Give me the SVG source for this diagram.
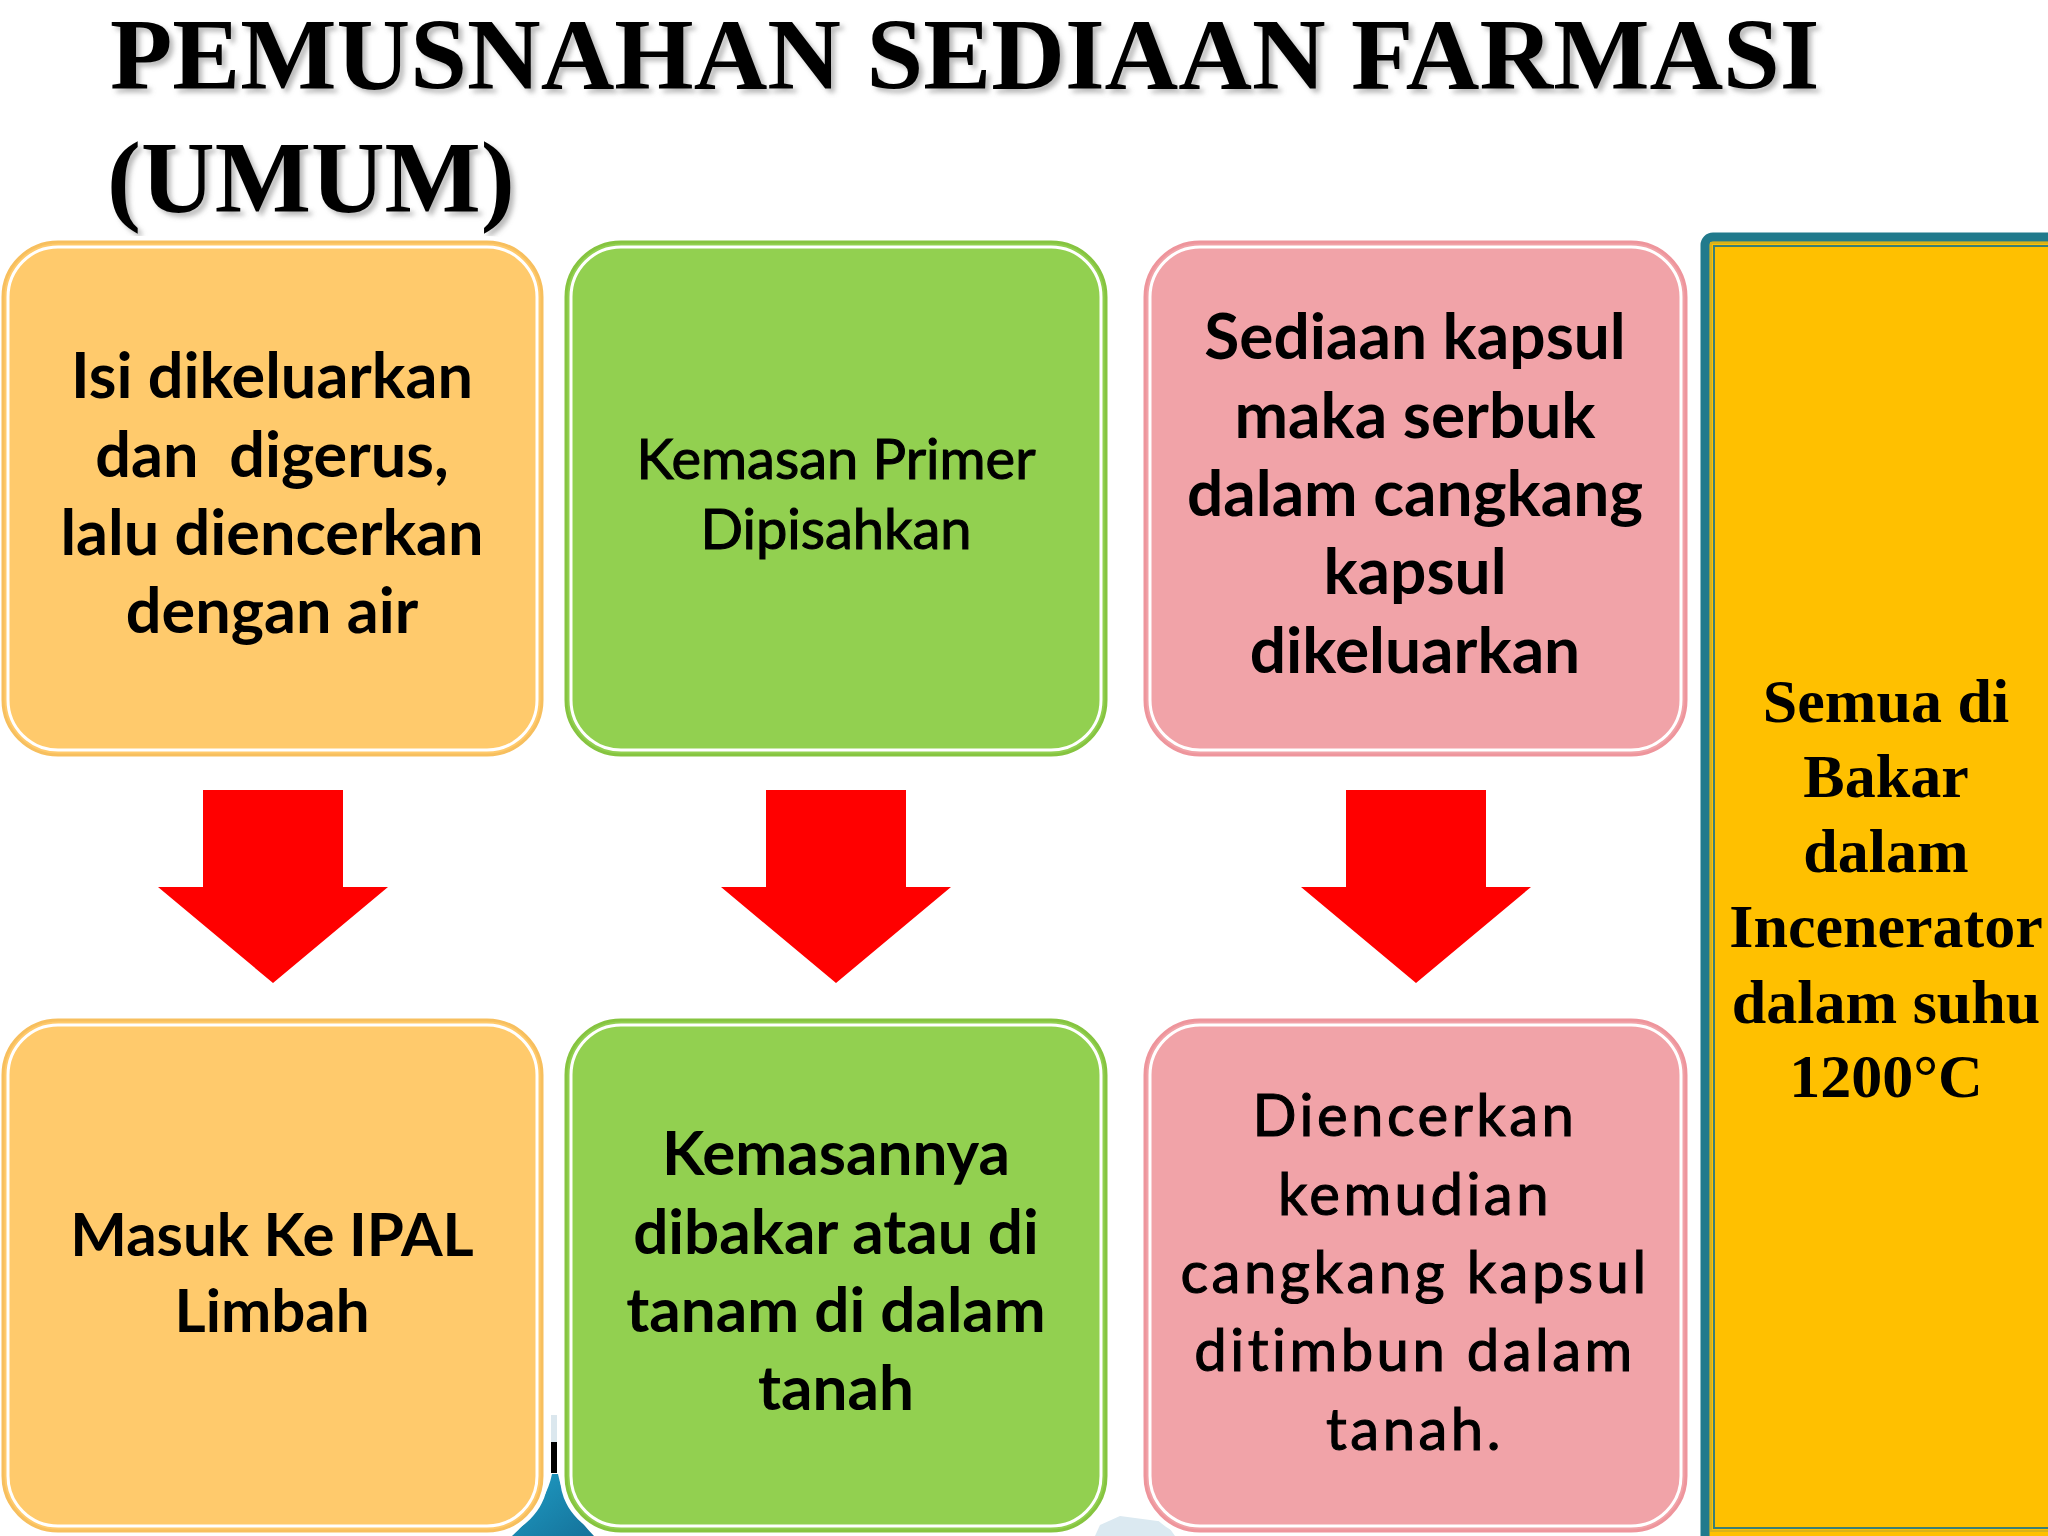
<svg xmlns="http://www.w3.org/2000/svg" width="2048" height="1536" viewBox="0 0 2048 1536">
<style>
.title{font-family:"Liberation Serif","Times New Roman",serif;font-weight:700;font-size:102px;fill:#000}
.tshadow{font-family:"Liberation Serif","Times New Roman",serif;font-weight:700;font-size:102px;fill:#808080;opacity:0.55}
.halo{fill:none;stroke:#fff;stroke-width:12}
.inner{fill:none;stroke:#fff;stroke-width:3}
.or{fill:#FFCA6C;stroke:#F7BF5E;stroke-width:3}
.gr{fill:#92D050;stroke:#86C440;stroke-width:3}
.pk{fill:#F1A3A8;stroke:#EE959C;stroke-width:3}
.tb{font-family:Lato,"Open Sans",sans-serif;font-weight:700;fill:#000;text-anchor:middle}
.tr{font-family:Lato,"Open Sans",sans-serif;font-weight:400;fill:#000;stroke:#000;stroke-width:1.1;text-anchor:middle}
.rt{font-family:"Liberation Serif","Times New Roman",serif;font-weight:700;font-size:62px;fill:#000;text-anchor:middle}
.arrow{fill:#FF0000}
</style>
<defs>
<polygon id="dn" points="-70,0 70,0 70,97 115,97 0,193 -115,97 -70,97"/>
<linearGradient id="bl" x1="0" y1="0" x2="1" y2="1">
<stop offset="0" stop-color="#1f9cc4"/>
<stop offset="1" stop-color="#15729a"/>
</linearGradient>
<filter id="soft" x="-5%" y="-20%" width="110%" height="140%">
<feGaussianBlur stdDeviation="2.5"/>
</filter>
</defs>
<rect width="2048" height="1536" fill="#fff"/>

<g id="background-deco">
<rect x="551" y="1415" width="6" height="27" fill="#dbe7ee"/>
<rect x="551" y="1442" width="6" height="31" fill="#000"/>
<path d="M512,1536 Q546,1505 552,1474 L558,1474 Q564,1505 594,1536 Z" fill="url(#bl)"/>
<path d="M1100,1525 L1120,1516 L1165,1522 L1175,1536 L1095,1536 Z" fill="#dbe9f1"/>
</g>

<g id="title">
<g filter="url(#soft)">
<text class="tshadow" x="114" y="93">PEMUSNAHAN SEDIAAN FARMASI</text>
<text class="tshadow" x="111" y="216">(UMUM)</text>
</g>
<text class="title" x="110" y="89">PEMUSNAHAN SEDIAAN FARMASI</text>
<text class="title" x="107" y="212">(UMUM)</text>
</g>

<g id="connectors">
<use href="#dn" class="arrow" x="273" y="790"/>
<use href="#dn" class="arrow" x="836" y="790"/>
<use href="#dn" class="arrow" x="1416" y="790"/>
</g>

<g id="box1">
<rect class="halo" x="3" y="242" width="539" height="513" rx="55"/>
<rect class="or" x="3" y="242" width="539" height="513" rx="55"/>
<rect class="inner" x="8" y="247" width="529" height="503" rx="50"/>
<text class="tb" font-size="63"><tspan x="272" y="398">Isi dikeluarkan</tspan><tspan x="272" y="477">dan&#160; digerus,</tspan><tspan x="272" y="555">lalu diencerkan</tspan><tspan x="272" y="633">dengan air</tspan></text>
</g>

<g id="box2">
<rect class="halo" x="566" y="242" width="540" height="513" rx="55"/>
<rect class="gr" x="566" y="242" width="540" height="513" rx="55"/>
<rect class="inner" x="571" y="247" width="530" height="503" rx="50"/>
<text class="tr" font-size="56"><tspan x="836" y="479">Kemasan Primer</tspan><tspan x="836" y="549">Dipisahkan</tspan></text>
</g>

<g id="box3">
<rect class="halo" x="1145" y="242" width="541" height="513" rx="55"/>
<rect class="pk" x="1145" y="242" width="541" height="513" rx="55"/>
<rect class="inner" x="1150" y="247" width="531" height="503" rx="50"/>
<text class="tb" font-size="64"><tspan x="1415" y="359">Sediaan kapsul</tspan><tspan x="1415" y="438">maka serbuk</tspan><tspan x="1415" y="516">dalam cangkang</tspan><tspan x="1415" y="594">kapsul</tspan><tspan x="1415" y="673">dikeluarkan</tspan></text>
</g>

<g id="box4">
<rect class="halo" x="3" y="1020" width="539" height="511" rx="55"/>
<rect class="or" x="3" y="1020" width="539" height="511" rx="55"/>
<rect class="inner" x="8" y="1025" width="529" height="501" rx="50"/>
<text class="tb" font-size="60"><tspan x="272" y="1256">Masuk Ke IPAL</tspan><tspan x="272" y="1332">Limbah</tspan></text>
</g>

<g id="box5">
<rect class="halo" x="566" y="1020" width="540" height="511" rx="55"/>
<rect class="gr" x="566" y="1020" width="540" height="511" rx="55"/>
<rect class="inner" x="571" y="1025" width="530" height="501" rx="50"/>
<text class="tb" font-size="62"><tspan x="836" y="1175">Kemasannya</tspan><tspan x="836" y="1254">dibakar atau di</tspan><tspan x="836" y="1332">tanam di dalam</tspan><tspan x="836" y="1410">tanah</tspan></text>
</g>

<g id="box6">
<rect class="halo" x="1145" y="1020" width="541" height="511" rx="55"/>
<rect class="pk" x="1145" y="1020" width="541" height="511" rx="55"/>
<rect class="inner" x="1150" y="1025" width="531" height="501" rx="50"/>
<text class="tr" font-size="58" letter-spacing="3.5"><tspan x="1415" y="1136">Diencerkan</tspan><tspan x="1415" y="1215">kemudian</tspan><tspan x="1415" y="1293">cangkang kapsul</tspan><tspan x="1415" y="1371">ditimbun dalam</tspan><tspan x="1415" y="1450">tanah.</tspan></text>
</g>

<g id="box7">
<rect x="1705" y="237" width="400" height="1310" rx="8" fill="#FFC000" stroke="#217A8C" stroke-width="9"/>
<rect x="1711" y="243" width="400" height="1288" fill="none" stroke="#D9B21A" stroke-width="2"/>
<rect x="1714" y="246" width="400" height="1282" fill="none" stroke="#3C7F74" stroke-width="2"/>
<text class="rt"><tspan x="1886" y="722">Semua di</tspan><tspan x="1886" y="797">Bakar</tspan><tspan x="1886" y="872">dalam</tspan><tspan x="1886" y="947">Incenerator</tspan><tspan x="1886" y="1023">dalam suhu</tspan><tspan x="1886" y="1097">1200°C</tspan></text>
</g>
</svg>
